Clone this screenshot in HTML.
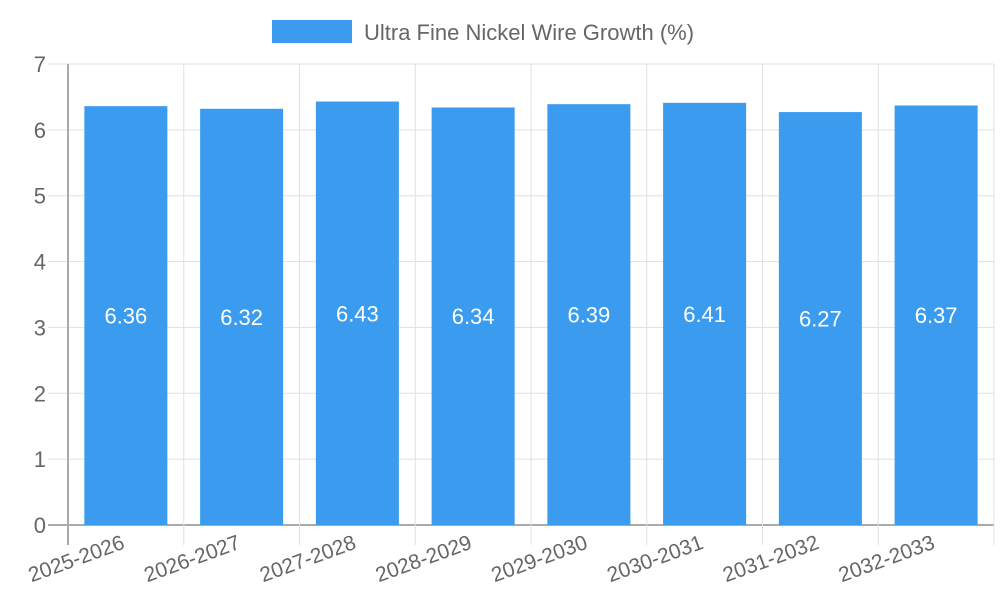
<!DOCTYPE html>
<html><head><meta charset="utf-8"><style>
body{margin:0;background:#fff;font-family:"Liberation Sans",sans-serif}
svg{display:block}
</style></head><body>
<svg id="chart" width="1000" height="600" xmlns="http://www.w3.org/2000/svg">
<g>
<rect x="272" y="20" width="80" height="23" fill="#3a9bef"/>
<text x="364" y="40" font-size="22" fill="#666">Ultra Fine Nickel Wire Growth (%)</text>
</g>
<g id="grid"></g><g id="bars"></g><g id="labels"></g>
</svg>
<script>
const categories=["2025-2026","2026-2027","2027-2028","2028-2029","2029-2030","2030-2031","2031-2032","2032-2033"];
const values=[6.36,6.32,6.43,6.34,6.39,6.41,6.27,6.37];
const yTicks=[0,1,2,3,4,5,6,7];
const NS="http://www.w3.org/2000/svg";
const L=68,R=994,T=64,B=525,yMax=7;
const y=v=>B-(B-T)*v/yMax;
const bw=(R-L)/categories.length;
const x=i=>L+bw*i;
function mk(tag,attrs,parent,text){const e=document.createElementNS(NS,tag);for(const k in attrs)e.setAttribute(k,attrs[k]);if(text!==undefined)e.textContent=text;document.getElementById(parent).appendChild(e);return e;}
yTicks.forEach(t=>{
 const g=mk('line',{x1:48,x2:R,y1:y(t),y2:y(t),stroke:t===0?'#aaa':'#e0e0e0','stroke-width':t===0?2:1},'grid');
 
 
 const l=mk('text',{x:46,y:y(t)+8,'text-anchor':'end','font-size':22,fill:'#666'},'labels',String(t));
 
 
});
for(let i=0;i<=categories.length;i++){
 const g=mk('line',{x1:x(i),x2:x(i),y1:T,y2:B+20,stroke:i===0?'#aaa':'#e0e0e0','stroke-width':i===0?2:1},'grid');
 
 
}
categories.forEach((c,i)=>{
 const cx=x(i)+bw/2, w=83;
 const r=mk('rect',{x:cx-w/2,y:y(values[i]),width:w,height:B-y(values[i]),fill:'#3a9bef'},'bars');
 
 
 const v=mk('text',{x:cx,y:(y(values[i])+B)/2+8,'text-anchor':'middle','font-size':22,fill:'#fff'},'labels',values[i].toFixed(2));
 
 
 const t=mk('text',{x:cx,y:548,'text-anchor':'end','font-size':21,fill:'#666',transform:`rotate(-20 ${cx} 548)`},'labels',c);
 
 
});
</script>
</body></html>
